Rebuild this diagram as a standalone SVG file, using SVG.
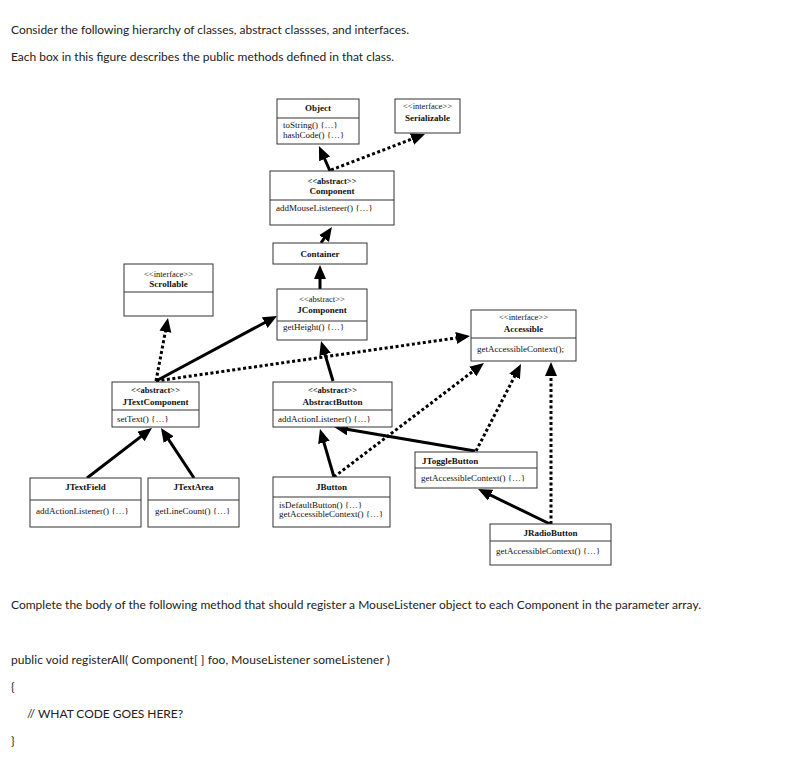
<svg xmlns="http://www.w3.org/2000/svg" width="793" height="783" viewBox="0 0 793 783">
<style>
.p{font-family:Lato,"Open Sans","Liberation Sans",sans-serif;font-size:12px;fill:#222}
.box{fill:#fff;stroke:#333;stroke-width:1}
.div{stroke:#333;stroke-width:1}
.t{font-family:"Liberation Serif","Times New Roman",serif;font-size:9px;font-weight:bold;fill:#111;text-anchor:middle}
.s{font-family:"Liberation Serif","Times New Roman",serif;font-size:8.5px;fill:#111;text-anchor:middle}
.sb{font-family:"Liberation Serif","Times New Roman",serif;font-size:8.5px;font-weight:bold;fill:#111;text-anchor:middle}
.m{font-family:"Liberation Serif","Times New Roman",serif;font-size:9px;fill:#111}
.solid{fill:none;stroke:#000;stroke-width:3;marker-end:url(#ah)}
.dot{fill:none;stroke:#000;stroke-width:3;stroke-dasharray:3 2.5;marker-end:url(#ah)}
</style>
<defs>
<marker id="ah" markerUnits="userSpaceOnUse" markerWidth="15" markerHeight="13" refX="4" refY="6" orient="auto">
<path d="M0,0 L14,6 L0,12 z" fill="#000"/>
</marker>
</defs>
<rect width="793" height="783" fill="#fff"/>

<g id="prose">
<text class="p" x="11" y="34" textLength="398" lengthAdjust="spacing">Consider the following hierarchy of classes, abstract classses, and interfaces.</text>
<text class="p" x="11" y="61" textLength="383" lengthAdjust="spacing">Each box in this figure describes the public methods defined in that class.</text>
<text class="p" x="11" y="609" textLength="690" lengthAdjust="spacing">Complete the body of the following method that should register a MouseListener object to each Component in the parameter array.</text>
<text class="p" x="11" y="664" textLength="379" lengthAdjust="spacing">public void registerAll( Component[ ]  foo, MouseListener someListener )</text>
<text class="p" x="11" y="691">{</text>
<text class="p" x="27" y="718" textLength="156" lengthAdjust="spacing">// WHAT CODE GOES HERE?</text>
<text class="p" x="11" y="745">}</text>
</g>

<g id="connectors">
<path class="solid" d="M330,171 L323,155.2"/>
<path class="dot" d="M331,170 L415.7,137.6"/>
<path class="solid" d="M321,243 L326.3,235.2"/>
<path class="solid" d="M320,289 L320,275"/>
<path class="dot" d="M156,381 L166.1,327.8"/>
<path class="solid" d="M156,381 L268.2,320.7"/>
<path class="dot" d="M156,381 L460.1,337.4"/>
<path class="solid" d="M333,381 L323.9,350.6"/>
<path class="solid" d="M334,477 L322.8,438.6"/>
<path class="dot" d="M334,477 L476,369"/>
<path class="solid" d="M475,451 L343.9,428.7"/>
<path class="dot" d="M476,451 L516.4,372.9"/>
<path class="solid" d="M550,524 L487,493.4"/>
<path class="dot" d="M551,524 L551,372"/>
<path class="solid" d="M87,478 L144.1,434.1"/>
<path class="solid" d="M194,478 L166.5,436.3"/>
</g>

<g id="Object">
<rect class="box" x="277" y="99" width="82" height="45"/>
<line class="div" x1="277" y1="118" x2="359" y2="118"/>
<text class="t" x="318" y="111">Object</text>
<text class="m" x="283" y="128">toString() {…}</text>
<text class="m" x="283" y="138">hashCode() {…}</text>
</g>

<g id="Serializable">
<rect class="box" x="395" y="99" width="65" height="34"/>
<text class="s" x="427.5" y="109">&lt;&lt;interface&gt;&gt;</text>
<text class="t" x="427.5" y="121">Serializable</text>
</g>

<g id="Component">
<rect class="box" x="270" y="171" width="124" height="54"/>
<line class="div" x1="270" y1="200" x2="394" y2="200"/>
<text class="sb" x="332" y="184">&lt;&lt;abstract&gt;&gt;</text>
<text class="t" x="332" y="194">Component</text>
<text class="m" x="276" y="211">addMouseListeneer() {…}</text>
</g>

<g id="Container">
<rect class="box" x="273" y="243" width="94" height="21"/>
<text class="t" x="320" y="257">Container</text>
</g>

<g id="Scrollable">
<rect class="box" x="124" y="264" width="89" height="52"/>
<line class="div" x1="124" y1="292" x2="213" y2="292"/>
<text class="s" x="168.5" y="277">&lt;&lt;interface&gt;&gt;</text>
<text class="t" x="168.5" y="287">Scrollable</text>
</g>

<g id="JComponent">
<rect class="box" x="277" y="289" width="90" height="51"/>
<line class="div" x1="277" y1="321" x2="367" y2="321"/>
<text class="s" x="322" y="302">&lt;&lt;abstract&gt;&gt;</text>
<text class="t" x="322" y="313">JComponent</text>
<text class="m" x="283" y="330">getHeight() {…}</text>
</g>

<g id="Accessible">
<rect class="box" x="471" y="310" width="105" height="51"/>
<line class="div" x1="471" y1="338" x2="576" y2="338"/>
<text class="s" x="523.5" y="320">&lt;&lt;interface&gt;&gt;</text>
<text class="t" x="523.5" y="332">Accessible</text>
<text class="m" x="477" y="352">getAccessibleContext();</text>
</g>

<g id="JTextComponent">
<rect class="box" x="112" y="382" width="87" height="45"/>
<line class="div" x1="112" y1="410" x2="199" y2="410"/>
<text class="sb" x="155.5" y="393">&lt;&lt;abstract&gt;&gt;</text>
<text class="t" x="155.5" y="404.5">JTextComponent</text>
<text class="m" x="117" y="422">setText() {…}</text>
</g>

<g id="AbstractButton">
<rect class="box" x="273" y="382" width="119" height="45"/>
<line class="div" x1="273" y1="410" x2="392" y2="410"/>
<text class="sb" x="332.5" y="393">&lt;&lt;abstract&gt;&gt;</text>
<text class="t" x="332.5" y="404.5">AbstractButton</text>
<text class="m" x="278" y="422">addActionListener() {…}</text>
</g>

<g id="JTextField">
<rect class="box" x="30" y="478" width="111" height="49"/>
<line class="div" x1="30" y1="500" x2="141" y2="500"/>
<text class="t" x="85.5" y="490">JTextField</text>
<text class="m" x="36" y="514">addActionListener() {…}</text>
</g>

<g id="JTextArea">
<rect class="box" x="148" y="478" width="91" height="49"/>
<line class="div" x1="148" y1="500" x2="239" y2="500"/>
<text class="t" x="193.5" y="490">JTextArea</text>
<text class="m" x="155" y="514">getLineCount() {…}</text>
</g>

<g id="JButton">
<rect class="box" x="273" y="477" width="117" height="50"/>
<line class="div" x1="273" y1="497" x2="390" y2="497"/>
<text class="t" x="331.5" y="490">JButton</text>
<text class="m" x="279" y="507.5">isDefaultButton() {…}</text>
<text class="m" x="279" y="517">getAccessibleContext() {…}</text>
</g>

<g id="JToggleButton">
<rect class="box" x="415" y="452" width="122" height="36"/>
<line class="div" x1="415" y1="468" x2="537" y2="468"/>
<text class="t" x="422" y="464" style="text-anchor:start">JToggleButton</text>
<text class="m" x="421" y="481">getAccessibleContext() {…}</text>
</g>

<g id="JRadioButton">
<rect class="box" x="490" y="524" width="121" height="41"/>
<line class="div" x1="490" y1="541" x2="611" y2="541"/>
<text class="t" x="550.5" y="536">JRadioButton</text>
<text class="m" x="496" y="554">getAccessibleContext() {…}</text>
</g>
</svg>
